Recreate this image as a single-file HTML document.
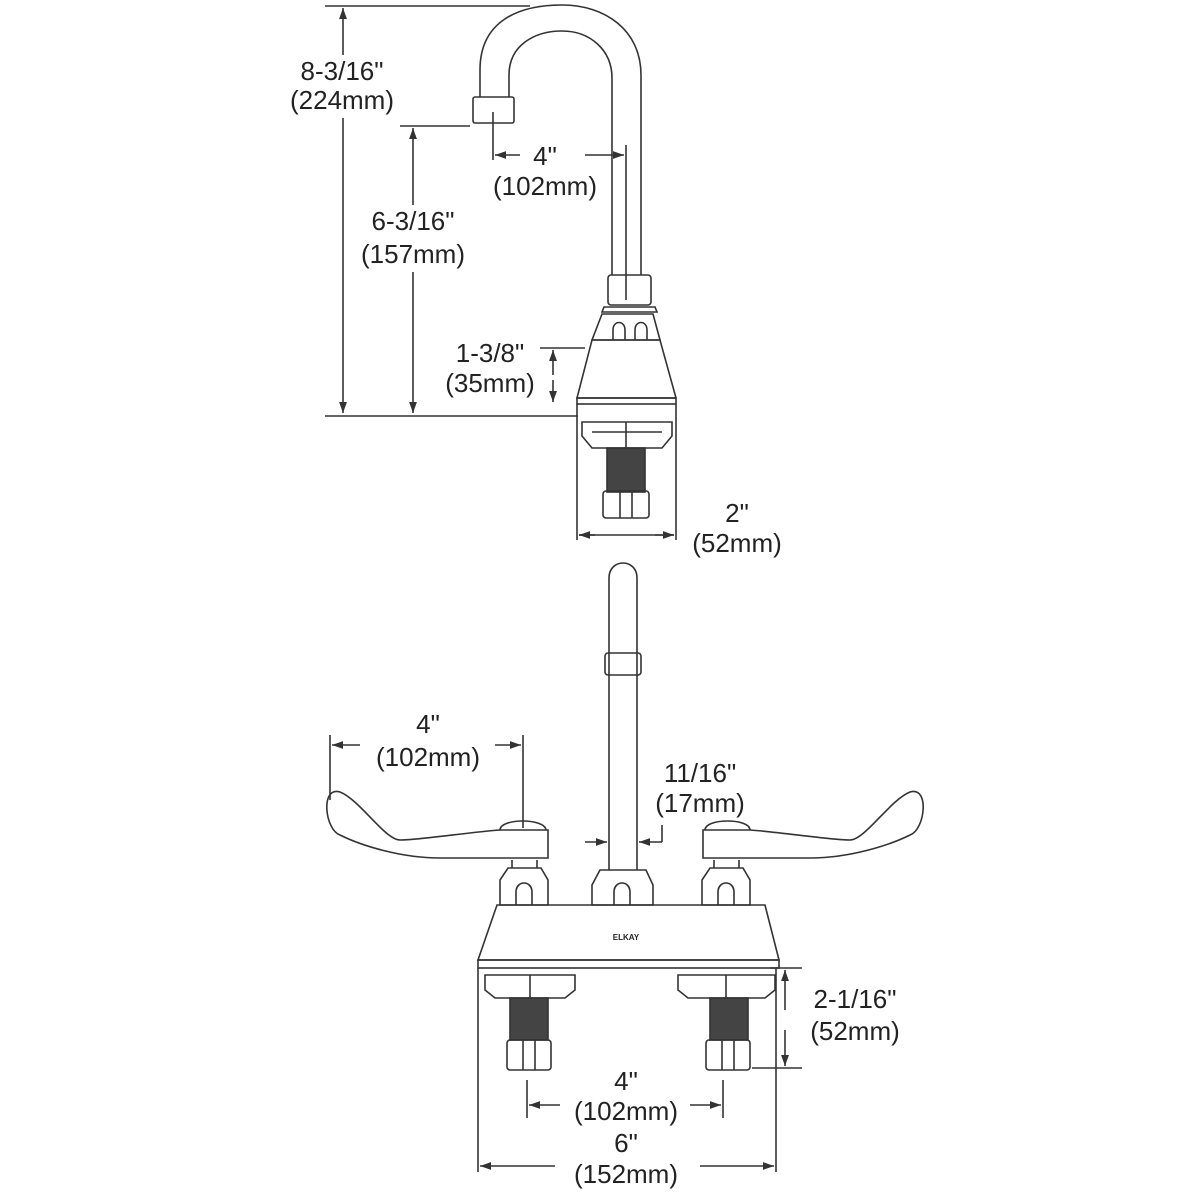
<!DOCTYPE html>
<html><head><meta charset="utf-8"><style>
html,body{margin:0;padding:0;background:#fff;}
svg{display:block}
text{font-family:"Liberation Sans",sans-serif;font-size:26px;fill:#222;text-anchor:middle}
</style></head><body>
<svg width="1200" height="1200" viewBox="0 0 1200 1200" xmlns="http://www.w3.org/2000/svg">
<defs>
<marker id="a" markerWidth="8" markerHeight="8" refX="7" refY="4" orient="auto"><path d="M0,1.5 L7,4 L0,6.5z" fill="#333"/></marker>
</defs>
<g stroke="#333" stroke-width="1.6" fill="none">
<line x1="325" y1="6" x2="530" y2="6"/>
<line x1="343" y1="55" x2="343" y2="8" marker-end="url(#a)"/>
<line x1="343" y1="118" x2="343" y2="413" marker-end="url(#a)"/>
<line x1="400" y1="126" x2="470" y2="126"/>
<line x1="413" y1="205" x2="413" y2="128" marker-end="url(#a)"/>
<line x1="413" y1="272" x2="413" y2="413" marker-end="url(#a)"/>
<line x1="325" y1="416" x2="578" y2="416"/>
<path d="M480,97 L480,70 C480,20 520,5 562,5 C605,5 641,30 641,75 L641,275"/>
<path d="M509,97 L509,75 C509,45 535,31 562,31 C590,31 612,50 612,78 L612,275"/>
<rect x="473" y="97" width="41" height="26" rx="2"/>
<line x1="493" y1="112" x2="493" y2="160"/>
<line x1="520" y1="155" x2="495" y2="155" marker-end="url(#a)"/>
<line x1="585" y1="155" x2="624" y2="155" marker-end="url(#a)"/>
<line x1="626" y1="145" x2="626" y2="270"/>
<rect x="608" y="275" width="43" height="30" rx="3"/>
<line x1="626" y1="270" x2="626" y2="300"/>
<path d="M604,307 L655,307 L657,312 L602,312 Z"/>
<path d="M602,314 L653,314 L660,340 L592,340 Z"/>
<path d="M613,340 L613,330 C613,320 625,320 625,330 L625,340 M635,340 L635,330 C635,320 647,320 647,330 L647,340"/>
<path d="M592,340 L660,340 L676,398 L577,398 Z"/>
<rect x="577" y="398" width="99" height="6"/>
<line x1="540" y1="348" x2="585" y2="348"/>
<line x1="553" y1="375" x2="553" y2="350" marker-end="url(#a)"/>
<line x1="553" y1="380" x2="553" y2="402" marker-end="url(#a)"/>
<line x1="577" y1="404" x2="577" y2="540"/>
<line x1="676" y1="404" x2="676" y2="540"/>
<path d="M582,422 L672,422 L672,436 L662,448 L592,448 L582,436 Z"/>
<line x1="592" y1="432" x2="662" y2="432"/>
<line x1="626" y1="422" x2="626" y2="450"/>
<rect x="607" y="448" width="38" height="44" fill="#444"/>
<rect x="603" y="491" width="46" height="27" rx="3"/>
<line x1="620" y1="491" x2="620" y2="518"/><line x1="632" y1="491" x2="632" y2="518"/>
<line x1="579" y1="535" x2="674" y2="535"/>
<line x1="595" y1="535" x2="579" y2="535" marker-end="url(#a)"/>
<line x1="655" y1="535" x2="674" y2="535" marker-end="url(#a)"/>

<path d="M609,870 L609,578 C609,558 637,558 637,578 L637,870"/>
<rect x="605" y="653" width="36" height="22" rx="3"/>
<path d="M546,830 L500,830 C470,832 420,840 400,840 C385,840 360,800 340,792 C320,786 325,830 340,835 C360,845 400,858 440,858 L520,858 L548,858 L548,830 Z"/>
<path d="M500,830 C500,818 545,818 546,830"/>
<path d="M705,830 L750,830 C780,832 830,840 850,840 C865,840 890,800 910,792 C930,786 925,830 910,835 C890,845 850,858 810,858 L730,858 L703,858 L703,830 Z"/>
<path d="M750,830 C750,818 705,818 705,830"/>
<path d="M512,860 L512,868 M537,860 L537,868 M508,868 L541,868 L548,880 L548,905 L500,905 L500,880 Z"/>
<path d="M516,905 L516,892 C516,880 532,880 532,892 L532,905"/>
<path d="M714,860 L714,868 M739,860 L739,868 M710,868 L743,868 L750,880 L750,905 L702,905 L702,880 Z"/>
<path d="M718,905 L718,892 C718,880 734,880 734,892 L734,905"/>
<path d="M600,870 L646,870 L653,885 L653,905 L592,905 L592,885 Z"/>
<path d="M614,905 L614,892 C614,880 630,880 630,892 L630,905"/>
<path d="M497,905 L765,905 L779,960 L478,960 Z"/>
<rect x="478" y="960" width="301" height="8"/>
<path d="M485,975 L575,975 L575,990 L565,998 L495,998 L485,990 Z"/>
<line x1="530" y1="975" x2="530" y2="998"/>
<rect x="510" y="998" width="38" height="42" fill="#444"/>
<rect x="507" y="1040" width="44" height="30" rx="3"/>
<line x1="523" y1="1040" x2="523" y2="1070"/><line x1="535" y1="1040" x2="535" y2="1070"/>
<path d="M678,975 L775,975 L775,990 L765,998 L688,998 L678,990 Z"/>
<line x1="726" y1="975" x2="726" y2="998"/>
<rect x="710" y="998" width="38" height="42" fill="#444"/>
<rect x="706" y="1040" width="44" height="30" rx="3"/>
<line x1="722" y1="1040" x2="722" y2="1070"/><line x1="734" y1="1040" x2="734" y2="1070"/>
<line x1="330" y1="735" x2="330" y2="800"/>
<line x1="523" y1="735" x2="523" y2="828"/>
<line x1="360" y1="745" x2="332" y2="745" marker-end="url(#a)"/>
<line x1="495" y1="745" x2="521" y2="745" marker-end="url(#a)"/>
<line x1="585" y1="842" x2="607" y2="842" marker-end="url(#a)"/>
<line x1="662" y1="842" x2="639" y2="842" marker-end="url(#a)"/>
<line x1="662" y1="842" x2="662" y2="825"/>
<line x1="770" y1="968" x2="802" y2="968"/>
<line x1="752" y1="1068" x2="802" y2="1068"/>
<line x1="785" y1="1010" x2="785" y2="970" marker-end="url(#a)"/>
<line x1="785" y1="1030" x2="785" y2="1066" marker-end="url(#a)"/>
<line x1="527" y1="1080" x2="527" y2="1118"/>
<line x1="723" y1="1080" x2="723" y2="1118"/>
<line x1="560" y1="1105" x2="529" y2="1105" marker-end="url(#a)"/>
<line x1="690" y1="1105" x2="721" y2="1105" marker-end="url(#a)"/>
<line x1="478" y1="968" x2="478" y2="1172"/>
<line x1="776" y1="968" x2="776" y2="1172"/>
<line x1="555" y1="1166" x2="480" y2="1166" marker-end="url(#a)"/>
<line x1="700" y1="1166" x2="774" y2="1166" marker-end="url(#a)"/>
</g>
<text x="626" y="940" style="font-size:8px;font-weight:bold">ELKAY</text>
<text x="342" y="80">8-3/16"</text>
<text x="342" y="109">(224mm)</text>
<text x="413" y="230">6-3/16"</text>
<text x="413" y="263">(157mm)</text>
<text x="545" y="165">4"</text>
<text x="545" y="195">(102mm)</text>
<text x="490" y="362">1-3/8"</text>
<text x="490" y="392">(35mm)</text>
<text x="737" y="522">2"</text>
<text x="737" y="552">(52mm)</text>
<text x="428" y="733">4"</text>
<text x="428" y="766">(102mm)</text>
<text x="700" y="782">11/16"</text>
<text x="700" y="812">(17mm)</text>
<text x="855" y="1008">2-1/16"</text>
<text x="855" y="1040">(52mm)</text>
<text x="626" y="1090">4"</text>
<text x="626" y="1120">(102mm)</text>
<text x="626" y="1152">6"</text>
<text x="626" y="1183">(152mm)</text>
</svg>
</body></html>
